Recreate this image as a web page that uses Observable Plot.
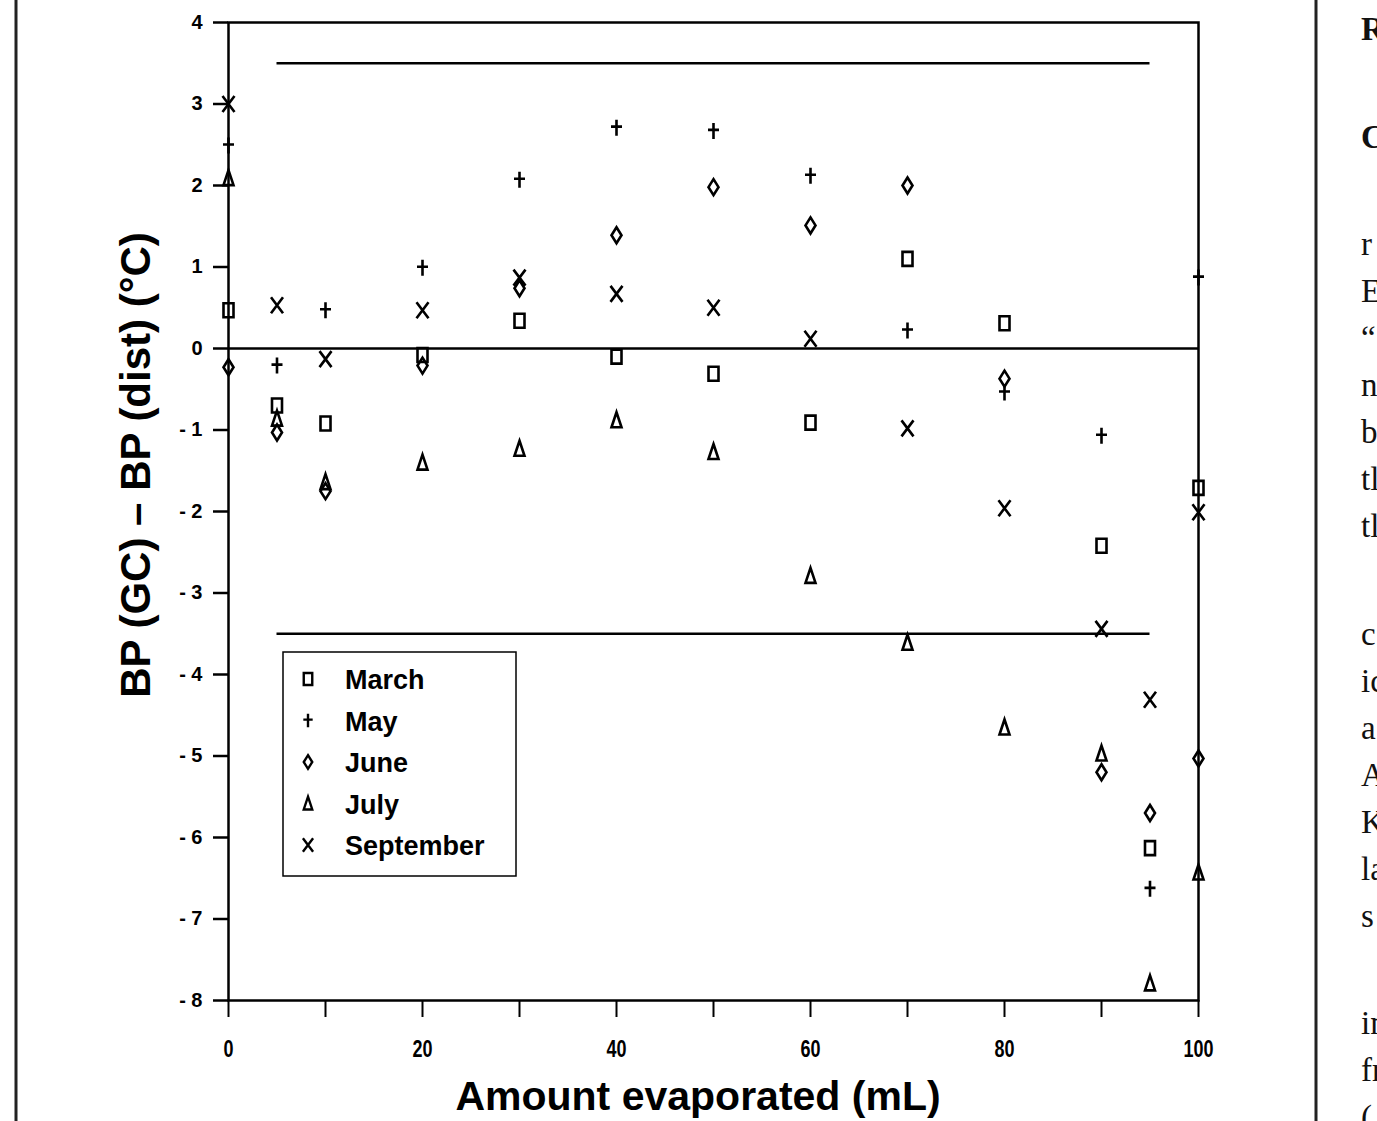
<!DOCTYPE html>
<html><head><meta charset="utf-8">
<script src="https://cdn.jsdelivr.net/npm/d3@7"></script>
<script src="https://cdn.jsdelivr.net/npm/@observablehq/plot@0.6"></script>
<style>
body{margin:0;background:#fff;}
#wrap{position:relative;width:1377px;height:1121px;overflow:hidden;background:#fff}
#chart{position:absolute;left:0;top:0}
</style></head><body><div id="wrap"><div id="chart"></div></div>
<script>
// ---- data ----
const amounts = [0, 5, 10, 20, 30, 40, 50, 60, 70, 80, 90, 95, 100];
const months = ["March", "May", "June", "July", "September"];
const march     = [0.47, -0.70, -0.92, -0.08, 0.34, -0.10, -0.31, -0.91, 1.10, 0.31, -2.42, -6.13, -1.71];
const may       = [2.49, -0.21, 0.47, 0.99, 2.07, 2.71, 2.67, 2.12, 0.22, -0.54, -1.07, -6.63, 0.87];
const june      = [-0.23, -1.03, -1.75, -0.21, 0.74, 1.39, 1.98, 1.51, 2.00, -0.37, -5.20, -5.70, -5.03];
const july      = [2.09, -0.86, -1.64, -1.40, -1.23, -0.88, -1.27, -2.79, -3.61, -4.65, -4.97, -7.79, -6.43];
const september = [3.00, 0.53, -0.13, 0.47, 0.87, 0.67, 0.50, 0.12, -0.98, -1.96, -3.44, -4.31, -2.01];
const limitValues = [3.5, -3.5];
const limitSpan = [5, 95];
const yTicks = [4, 3, 2, 1, 0, -1, -2, -3, -4, -5, -6, -7, -8];
const xTicks = [0, 10, 20, 30, 40, 50, 60, 70, 80, 90, 100];
const xLabels = [0, 20, 40, 60, 80, 100];
const xTitle = "Amount evaporated (mL)";
const yTitle = "BP (GC) – BP (dist) (°C)";
const sideText = [
  {t: "R", bold: true}, {t: "C", bold: true},
  {t: "r"}, {t: "E"}, {t: "“"}, {t: "n"}, {t: "b"}, {t: "tl"}, {t: "tl"},
  {t: "c"}, {t: "ic"}, {t: "a"}, {t: "A"}, {t: "K"}, {t: "la"}, {t: "s"},
  {t: "in"}, {t: "fr"}, {t: "("}
];

const seriesByMonth = {March: march, May: may, June: june, July: july, September: september};
const rows = [];
for (const m of months) seriesByMonth[m].forEach((v, i) => rows.push({month: m, amount: amounts[i], diff: v}));

// ---- symbols (tall, like the original) ----
function makeSymbols(s) {
  return [
    {draw(c){c.moveTo(-5*s,-7*s);c.lineTo(5*s,-7*s);c.lineTo(5*s,7*s);c.lineTo(-5*s,7*s);c.closePath();}},
    {draw(c){c.moveTo(0,-8*s);c.lineTo(0,8*s);c.moveTo(-5.5*s,-1*s);c.lineTo(5.5*s,-1*s);}},
    {draw(c){c.moveTo(0,-8*s);c.lineTo(5*s,0);c.lineTo(0,8*s);c.lineTo(-5*s,0);c.closePath();}},
    {draw(c){c.moveTo(0,-8*s);c.lineTo(5*s,7*s);c.lineTo(-5*s,7*s);c.closePath();}},
    {draw(c){c.moveTo(-6*s,-8*s);c.lineTo(6*s,8*s);c.moveTo(6*s,-8*s);c.lineTo(-6*s,8*s);}}
  ];
}
const symbols = makeSymbols(1);
const titleFont = "'Liberation Sans',Arial,sans-serif";

const plot = Plot.plot({
  width: 1377, height: 1121,
  marginLeft: 228, marginRight: 179, marginTop: 22, marginBottom: 121,
  style: {background: "white", color: "black", fontFamily: titleFont, fontSize: "20px", fontWeight: "bold"},
  x: {domain: [0, 100], label: null},
  y: {domain: [-8, 4], label: null},
  symbol: {domain: months, range: symbols},
  marks: [
    Plot.ruleY([0], {stroke: "black", strokeWidth: 2.5}),
    Plot.ruleY(limitValues, {x1: limitSpan[0], x2: limitSpan[1], stroke: "black", strokeWidth: 2.5}),
    Plot.frame({stroke: "black", strokeWidth: 2.5}),
    Plot.axisY({ticks: yTicks, tickSize: 15, tickPadding: 11, strokeWidth: 2.5,
      tickFormat: d => d < 0 ? "- " + (-d) : String(d), label: null}),
    Plot.axisX({ticks: xTicks, tickSize: 17, tickPadding: 22, strokeWidth: 2,
      tickFormat: d => xLabels.includes(d) ? String(d) : "", label: null}),
    Plot.dot(rows, {x: "amount", y: "diff", symbol: "month", r: 5, fill: "none", stroke: "black", strokeWidth: 2.6})
  ]
});
document.getElementById("chart").appendChild(plot);

const svg = d3.select(plot);
// tick label typography (tall, narrow digits like the scan)
svg.selectAll('g[aria-label="x-axis tick label"] text').each(function() {
  const t = d3.select(this);
  const s = t.text();
  t.attr("font-size", 24).attr("font-family", titleFont).attr("font-weight", "bold");
  if (s.length) t.attr("textLength", s.length * 10).attr("lengthAdjust", "spacingAndGlyphs");
});
svg.selectAll('g[aria-label="y-axis tick label"] text')
  .attr("font-size", 20).attr("font-family", titleFont).attr("font-weight", "bold");

svg.append("text").attr("x", 698).attr("y", 1110).attr("text-anchor", "middle")
  .attr("font-family", titleFont).attr("font-weight", "bold").attr("font-size", 41).attr("fill", "black").text(xTitle);
svg.append("text").attr("transform", "translate(150,465) rotate(-90)").attr("text-anchor", "middle")
  .attr("font-family", titleFont).attr("font-weight", "bold").attr("font-size", 42).attr("fill", "black").text(yTitle);

// ---- legend ----
const lg = svg.append("g").attr("transform", "translate(283,652)");
lg.append("rect").attr("width", 233).attr("height", 224).attr("fill", "white").attr("stroke", "black").attr("stroke-width", 1.5);
const legendSyms = makeSymbols(0.85);
months.forEach((m, i) => {
  const cy = 27 + i * 41.5;
  lg.append("path").attr("d", d3.symbol(legendSyms[i])()).attr("transform", `translate(25,${cy})`)
    .attr("fill", "none").attr("stroke", "black").attr("stroke-width", 2.4);
  lg.append("text").attr("x", 62).attr("y", cy + 10).attr("text-anchor", "start")
    .attr("font-family", titleFont).attr("font-weight", "bold")
    .attr("font-size", 27).attr("fill", "black").text(m);
});

// ---- page decorations (scanned page edges) ----
svg.append("line").attr("x1", 16).attr("x2", 16).attr("y1", 0).attr("y2", 1121).attr("stroke", "#222").attr("stroke-width", 3);
svg.append("line").attr("x1", 1316).attr("x2", 1316).attr("y1", 0).attr("y2", 1121).attr("stroke", "#222").attr("stroke-width", 3);
const baselines = [40, 148, 255, 302, 349, 396, 443, 490, 537, 645, 692, 739, 786, 833, 880, 927, 1034, 1081, 1128];
sideText.forEach((d, i) => {
  svg.append("text").attr("x", 1361).attr("y", baselines[i]).attr("text-anchor", "start")
    .attr("font-family", "'Liberation Serif','DejaVu Serif',serif").attr("font-size", 33)
    .attr("font-weight", d.bold ? "bold" : "normal").attr("fill", "#111").text(d.t);
});
</script></body></html>
